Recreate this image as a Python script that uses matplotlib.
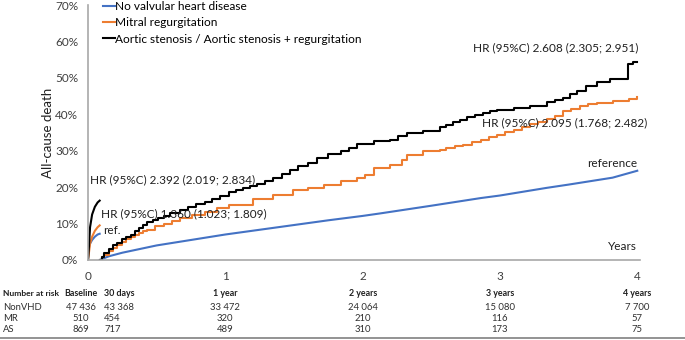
import matplotlib
matplotlib.use("Agg")
import matplotlib.pyplot as plt
import matplotlib.transforms as mtransforms

plt.rcParams['font.family'] = ['Lato', 'DejaVu Sans']

# ---------------- data ----------------
series_names = ["No valvular heart disease", "Mitral regurgitation",
                "Aortic stenosis / Aortic stenosis + regurgitation"]
colors = ["#4472C4", "#ED7D31", "#000000"]

# 0-30 days landmark (years, %)
early_x = [0, 0.005, 0.015, 0.03, 0.05, 0.07, 0.085]
early_blue = [0, 3.0, 4.5, 5.5, 6.4, 7.0, 7.2]
early_orange = [0, 1.4, 4.5, 6.4, 8.0, 9.0, 9.5]
early_black = [0, 2.5, 9.0, 12.5, 14.6, 15.8, 16.3]

# 30 days - 4 years landmark
blue_x = [0.085, 0.15, 0.25, 0.5, 0.75, 1.0, 1.25, 1.5, 1.75, 2.0, 2.13, 2.5,
          2.86, 3.0, 3.34, 3.5, 3.82, 4.0]
blue_y = [0, 1.0, 2.0, 4.0, 5.5, 7.0, 8.3, 9.6, 10.9, 12.1, 12.8, 14.9,
          17.0, 17.7, 19.8, 20.7, 22.6, 24.5]

orange_x = [0.087, 0.10, 0.12, 0.15, 0.18, 0.21, 0.25, 0.28, 0.31, 0.34, 0.37,
            0.40, 0.43, 0.49, 0.55, 0.61, 0.67, 0.76, 0.85, 0.94, 1.03, 1.12,
            1.2, 1.35, 1.49, 1.6, 1.72, 1.84, 1.96, 2.02, 2.08, 2.2, 2.29,
            2.32, 2.44, 2.56, 2.61, 2.67, 2.73, 2.8, 2.86, 2.92, 2.98, 3.04,
            3.1, 3.16, 3.22, 3.28, 3.34, 3.4, 3.46, 3.52, 3.58, 3.64, 3.71,
            3.82, 3.94, 4.0]
orange_y = [0, 0.8, 1.5, 2.4, 3.3, 4.2, 5.0, 5.8, 6.4, 6.9, 7.4,
            7.9, 8.3, 9.2, 10.0, 10.8, 11.6, 12.4, 13.3, 14.2, 15.1, 15.1,
            16.8, 17.9, 19.3, 19.8, 20.7, 21.6, 22.5, 23.4, 25.2, 26.2, 27.5,
            28.9, 29.8, 30.3, 30.8, 31.2, 31.7, 32.3, 33.0, 33.7, 34.4, 35.1,
            35.8, 36.5, 37.2, 37.9, 38.6, 39.6, 40.9, 41.5, 42.2, 42.7, 43.1,
            43.6, 44.3, 44.8]

black_x = [0.087, 0.10, 0.12, 0.15, 0.18, 0.21, 0.25, 0.28, 0.31, 0.34, 0.37,
           0.40, 0.43, 0.47, 0.51, 0.55, 0.6, 0.67, 0.73, 0.79, 0.85, 0.9,
           0.96, 1.03, 1.08, 1.13, 1.18, 1.23, 1.29, 1.35, 1.41, 1.47, 1.53,
           1.6, 1.67, 1.75, 1.84, 1.9, 1.96, 2.08, 2.2, 2.26, 2.32, 2.44,
           2.56, 2.61, 2.66, 2.71, 2.76, 2.82, 2.88, 2.93, 2.98, 3.1, 3.22,
           3.34, 3.4, 3.46, 3.51, 3.56, 3.63, 3.71, 3.8, 3.89, 3.93, 3.97, 4.0]
black_y = [0, 0.8, 2.0, 3.0, 4.1, 4.8, 5.8, 6.4, 7.0, 8.0, 8.8,
           9.6, 10.5, 11.0, 11.5, 12.0, 12.8, 13.8, 14.6, 15.3, 16.0, 16.8,
           17.6, 18.6, 19.2, 19.8, 20.4, 21.0, 21.7, 22.5, 23.6, 24.8, 25.7,
           26.6, 28.0, 29.0, 29.8, 30.8, 31.9, 32.6, 33.0, 34.0, 34.9, 35.4,
           36.5, 37.0, 37.8, 38.5, 39.3, 39.8, 40.3, 40.8, 41.3, 41.8, 42.4,
           43.3, 43.9, 44.5, 45.5, 46.4, 47.7, 48.9, 49.6, 49.6, 53.7, 54.4, 54.4]

y_ticks = [0, 10, 20, 30, 40, 50, 60, 70]
x_ticks = [0, 1, 2, 3, 4]

table_rows = ["NonVHD", "MR", "AS"]
table_headers = ["Baseline", "30 days", "1 year", "2 years", "3 years", "4 years"]
table_values = [
    ["47 436", "43 368", "33 472", "24 064", "15 080", "7 700"],
    ["510", "454", "320", "210", "116", "57"],
    ["869", "717", "489", "310", "173", "75"],
]

W, H = 685, 340
fig = plt.figure(figsize=(W / 100, H / 100), dpi=100)
ax = fig.add_axes([88 / W, 1 - 260 / H, (640 - 88) / W, (260 - 5) / H])

lw = 1.5
ax.plot(early_x, early_blue, color=colors[0], lw=lw)
ax.plot(early_x, early_orange, color=colors[1], lw=lw)
ax.plot(early_x, early_black, color=colors[2], lw=lw)
l1, = ax.plot(blue_x, blue_y, color=colors[0], lw=lw)
l2, = ax.plot(orange_x, orange_y, color=colors[1], lw=lw, drawstyle='steps-post')
l3, = ax.plot(black_x, black_y, color=colors[2], lw=lw, drawstyle='steps-post')

ax.set_xlim(0, 4.02)
ax.set_ylim(0, 70)
ax.set_yticks(y_ticks)
ax.set_yticklabels([f"{v}%" for v in y_ticks])
ax.set_xticks(x_ticks)
ax.set_xticklabels([str(v) for v in x_ticks])
ax.tick_params(axis='both', length=0, labelsize=8.5, colors='#404040')
ax.tick_params(axis='x', pad=8)
ax.tick_params(axis='y', pad=7)
for s in ['top', 'right']:
    ax.spines[s].set_visible(False)
for s in ['left', 'bottom']:
    ax.spines[s].set_color('#a8a8a8')
    ax.spines[s].set_linewidth(1.2)

ax.set_ylabel("All-cause death", fontsize=9.5, color='#202020', labelpad=1)

leg = ax.legend([l1, l2, l3], series_names, loc='upper left',
                bbox_to_anchor=(0.018, 1.035), frameon=False, fontsize=8.6,
                handlelength=1.0, handletextpad=0.05, labelspacing=0.45,
                borderaxespad=0)

tc = '#202020'
fs = 8.5
ax.text(4.01, 58.2, "HR (95%C) 2.608 (2.305; 2.951)", ha='right', va='center', fontsize=fs, color=tc)
ax.text(4.07, 37.7, "HR (95%C) 2.095 (1.768; 2.482)", ha='right', va='center', fontsize=fs, color=tc)
ax.text(4.0, 26.4, "reference", ha='right', va='center', fontsize=fs, color=tc)
ax.text(4.0, 3.6, "Years", ha='right', va='center', fontsize=fs, color=tc)
ax.text(0.015, 22.0, "HR (95%C) 2.392 (2.019; 2.834)", ha='left', va='center', fontsize=fs, color=tc)
ax.text(0.095, 12.8, "HR (95%C) 1.360 (1.023; 1.809)", ha='left', va='center', fontsize=fs, color=tc)
ax.text(0.11, 8.2, "ref.", ha='left', va='center', fontsize=fs, color=tc)

# number at risk table
trans = mtransforms.blended_transform_factory(ax.transData, fig.transFigure)
tfs = 6.8
def fy(py):
    return 1 - py / H
header_y = fy(293)
row_y = [fy(307), fy(318.5), fy(330)]
base_x = 81 / W
d30_x = 104 / W
fig.text(3 / W, header_y, "Number at risk", ha='left', va='center', fontsize=6.1, fontweight='bold', color='#202020')
fig.text(base_x, header_y, table_headers[0], ha='center', va='center', fontsize=6.4, fontweight='bold', color='#202020')
fig.text(d30_x, header_y, table_headers[1], ha='left', va='center', fontsize=6.4, fontweight='bold', color='#202020')
for k, h in enumerate(table_headers[2:]):
    fig.text(k + 1, header_y, h, ha='center', va='center', fontsize=6.4, fontweight='bold', color='#202020', transform=trans)
for r, name in enumerate(table_rows):
    fig.text(3 / W, row_y[r], name, ha='left', va='center', fontsize=tfs, color='#303030')
    fig.text(base_x, row_y[r], table_values[r][0], ha='center', va='center', fontsize=tfs, color='#303030')
    fig.text(d30_x, row_y[r], table_values[r][1], ha='left', va='center', fontsize=tfs, color='#303030')
    for k in range(4):
        fig.text(k + 1, row_y[r], table_values[r][k + 2], ha='center', va='center', fontsize=tfs, color='#303030', transform=trans)

fig.add_artist(plt.Line2D([0, 1], [fy(337.5), fy(337.5)], transform=fig.transFigure, color='#808080', lw=1.2))

fig.savefig("out.png", dpi=100)
